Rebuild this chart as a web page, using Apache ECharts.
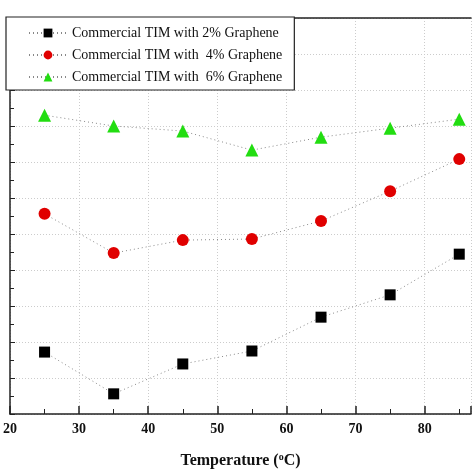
<!DOCTYPE html><html><head><meta charset="utf-8"><script src="https://cdn.jsdelivr.net/npm/echarts@6/dist/echarts.min.js"></script></head><body style="margin:0"><div id="c" style="width:474px;height:474px"></div><script>
const temps=[25,35,45,55,65,75,85];
const names=['Commercial TIM with 2% Graphene','Commercial TIM with  4% Graphene','Commercial TIM with  6% Graphene'];
const s2=[1.72,0.56,1.39,1.75,2.69,3.31,4.44];
const s4=[5.56,4.47,4.83,4.86,5.36,6.19,7.08];
const s6=[8.3,8.0,7.86,7.33,7.69,7.94,8.19];
const xTicks=[20,30,40,50,60,70,80];
const F='Liberation Serif';
const mk=(n,d,sym,size,col)=>({name:n,type:'line',data:temps.map((t,i)=>[t,d[i]]),symbol:sym,symbolSize:size,itemStyle:{color:col},lineStyle:{color:'#888',width:1,type:[1,3]}});
const ch=echarts.init(document.getElementById('c'));
ch.setOption({animation:false,
grid:{left:6,right:0,top:18,bottom:60},
legend:{orient:'vertical',left:6,top:17,width:287,height:77,itemWidth:38,itemHeight:11,itemGap:8,padding:[9,12,6,22],borderColor:'#222',borderWidth:1.2,backgroundColor:'#fff',textStyle:{fontFamily:F,fontSize:14,color:'#111'},data:names},
xAxis:[{type:'value',min:20,max:86.7,interval:10,axisLine:{lineStyle:{color:'#222',width:1.5}},axisTick:{inside:true,length:8,lineStyle:{color:'#222',width:1.5}},minorTick:{show:true,splitNumber:2,length:5,lineStyle:{color:'#222'}},splitLine:{show:true,lineStyle:{color:'#ccc',type:[1,2]}},
axisLabel:{fontFamily:F,fontWeight:'bold',fontSize:14,color:'#111',margin:8,formatter:v=>xTicks.includes(v)?v:''},
name:'{a|Temperature (}{s|o}{a|C)}',nameLocation:'middle',nameGap:38,nameTextStyle:{rich:{a:{fontFamily:F,fontWeight:'bold',fontSize:16,color:'#111'},s:{fontFamily:F,fontWeight:'bold',fontSize:10,color:'#111',verticalAlign:'top',padding:[0,0,8,0]}}}},
{type:'value',position:'top',min:20,max:86.7,axisLine:{show:true,lineStyle:{color:'#222',width:1.5}},axisTick:{show:false},axisLabel:{show:false},splitLine:{show:false}}],
yAxis:{type:'value',min:0,max:11,interval:1,axisLine:{show:true,lineStyle:{color:'#222',width:1.5}},axisTick:{show:true,inside:true,length:5,lineStyle:{color:'#222'}},minorTick:{show:true,splitNumber:2,length:4,lineStyle:{color:'#222'}},axisLabel:{show:false},splitLine:{show:true,lineStyle:{color:'#ccc',type:[1,2]}}},
series:[mk(names[0],s2,'rect',11,'#000'),mk(names[1],s4,'circle',12,'#e00000'),mk(names[2],s6,'triangle',13,'#22dd11')]});
</script></body></html>
